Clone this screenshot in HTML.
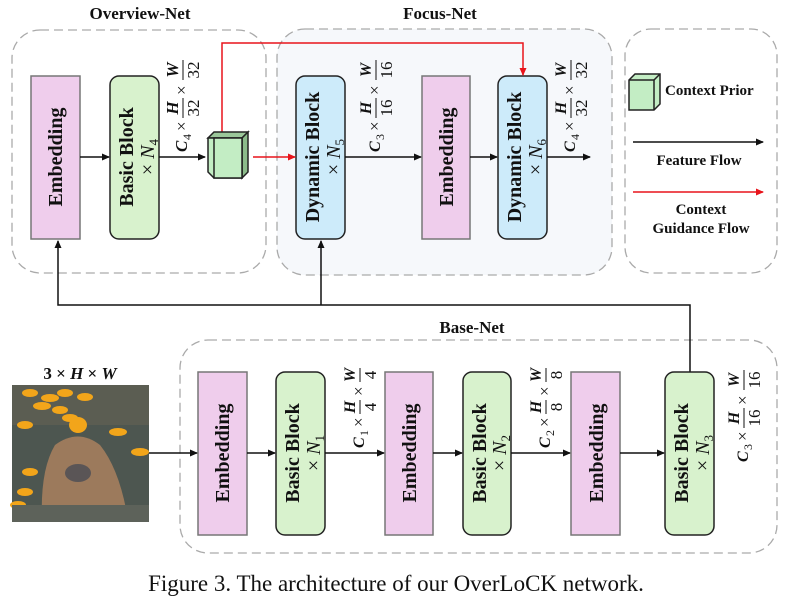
<!DOCTYPE html>
<html><head><meta charset="utf-8"><style>
body{margin:0;background:#fff}
svg{display:block}
text{font-family:"Liberation Serif",serif;font-weight:bold;fill:#111}
.b{fill:none;stroke:#aaa;stroke-width:1.3;stroke-dasharray:9 5}
.e{fill:#efcdec;stroke:#777;stroke-width:1.5}
.g{fill:#d8f2cd;stroke:#222;stroke-width:1.5}
.d{fill:#cdebfa;stroke:#222;stroke-width:1.5}
.l{stroke:#111;stroke-width:1.5;fill:none}
.r{stroke:#e8141b;stroke-width:1.5;fill:none}
.bt{font-size:20px}
.lt{font-size:17px}
.m{font-size:17px;font-weight:normal}
.i{font-style:italic;font-weight:bold}
.s{font-size:12px;font-weight:normal}
.fb{stroke:#111;stroke-width:1}
</style></head><body>
<svg width="793" height="600" viewBox="0 0 793 600">
<defs>
<marker id="a" markerWidth="8" markerHeight="8" refX="7" refY="4" orient="auto" markerUnits="userSpaceOnUse"><path d="M0,0.5 L8,4 L0,7.5 z" fill="#111"/></marker>
<marker id="ar" markerWidth="8" markerHeight="8" refX="7" refY="4" orient="auto" markerUnits="userSpaceOnUse"><path d="M0,0.5 L8,4 L0,7.5 z" fill="#e8141b"/></marker>
</defs>
<rect x="12" y="30" width="254" height="243" rx="28" class="b"/>
<rect x="277" y="29" width="335" height="246" rx="28" class="b" style="fill:#f6f8fb"/>
<rect x="625" y="29" width="152" height="244" rx="26" class="b"/>
<rect x="180" y="340" width="597" height="213" rx="28" class="b"/>
<text x="140" y="19" text-anchor="middle" class="lt">Overview-Net</text>
<text x="440" y="19" text-anchor="middle" class="lt">Focus-Net</text>
<text x="472" y="333" text-anchor="middle" class="lt">Base-Net</text>

<rect x="31" y="76" width="49" height="163" class="e"/>
<rect x="110" y="76" width="49" height="163" rx="9" class="g"/>
<rect x="296" y="76" width="49" height="163" rx="9" class="d"/>
<rect x="422" y="76" width="48" height="163" class="e"/>
<rect x="498" y="76" width="49" height="163" rx="9" class="d"/>
<text transform="translate(62,157) rotate(-90)" text-anchor="middle" class="bt">Embedding</text>
<text transform="translate(133,157) rotate(-90)" text-anchor="middle" class="bt">Basic  Block</text>
<text transform="translate(154,157) rotate(-90)" text-anchor="middle" class="bt" style="font-weight:normal">× <tspan font-style="italic">N</tspan><tspan font-size="13" dy="4">4</tspan></text>
<text transform="translate(319,157) rotate(-90)" text-anchor="middle" class="bt">Dynamic  Block</text>
<text transform="translate(340,157) rotate(-90)" text-anchor="middle" class="bt" style="font-weight:normal">× <tspan font-style="italic">N</tspan><tspan font-size="13" dy="4">5</tspan></text>
<text transform="translate(453,157) rotate(-90)" text-anchor="middle" class="bt">Embedding</text>
<text transform="translate(521,157) rotate(-90)" text-anchor="middle" class="bt">Dynamic  Block</text>
<text transform="translate(542,157) rotate(-90)" text-anchor="middle" class="bt" style="font-weight:normal">× <tspan font-style="italic">N</tspan><tspan font-size="13" dy="4">6</tspan></text>

<line x1="80" y1="157" x2="109" y2="157" class="l" marker-end="url(#a)"/>
<line x1="159" y1="157" x2="205" y2="157" class="l" marker-end="url(#a)"/>
<line x1="345" y1="157" x2="421" y2="157" class="l" marker-end="url(#a)"/>
<line x1="470" y1="157" x2="497" y2="157" class="l" marker-end="url(#a)"/>
<line x1="547" y1="157" x2="590" y2="157" class="l" marker-end="url(#a)"/>
<line x1="253" y1="157" x2="295" y2="157" class="r" marker-end="url(#ar)"/>
<polyline points="222,132 222,43 523,43 523,75" class="r" marker-end="url(#ar)"/>

<g stroke="#222" stroke-width="1.5">
<polygon points="208,138 214,132 248,132 242,138" fill="#9bc79a"/>
<polygon points="242,138 248,132 248,172 242,178" fill="#8bbb8a"/>
<polygon points="208,138 242,138 242,178 214,178 208,172" fill="#c3edc4"/>
<rect x="214" y="138" width="28" height="40" fill="#c3edc4"/>
</g>

<g transform="translate(187,152) rotate(-90)" class="m">
<text x="0" y="0" class="i">C</text><text x="12" y="4" class="s">4</text><text x="21" y="0" class="m">×</text>
<text x="44" y="-9" text-anchor="middle" class="i">H</text><line x1="34" y1="-4" x2="54" y2="-4" class="fb"/><text x="44" y="12" text-anchor="middle" class="m">32</text>
<text x="57" y="0" class="m">×</text>
<text x="82" y="-9" text-anchor="middle" class="i">W</text><line x1="72" y1="-4" x2="92" y2="-4" class="fb"/><text x="82" y="12" text-anchor="middle" class="m">32</text>
</g>
<g transform="translate(380,152) rotate(-90)">
<text x="0" y="0" class="i">C</text><text x="12" y="4" class="s">3</text><text x="21" y="0" class="m">×</text>
<text x="44" y="-9" text-anchor="middle" class="i">H</text><line x1="34" y1="-4" x2="54" y2="-4" class="fb"/><text x="44" y="12" text-anchor="middle" class="m">16</text>
<text x="57" y="0" class="m">×</text>
<text x="82" y="-9" text-anchor="middle" class="i">W</text><line x1="72" y1="-4" x2="92" y2="-4" class="fb"/><text x="82" y="12" text-anchor="middle" class="m">16</text>
</g>
<g transform="translate(575,152) rotate(-90)">
<text x="0" y="0" class="i">C</text><text x="12" y="4" class="s">4</text><text x="21" y="0" class="m">×</text>
<text x="44" y="-9" text-anchor="middle" class="i">H</text><line x1="34" y1="-4" x2="54" y2="-4" class="fb"/><text x="44" y="12" text-anchor="middle" class="m">32</text>
<text x="57" y="0" class="m">×</text>
<text x="82" y="-9" text-anchor="middle" class="i">W</text><line x1="72" y1="-4" x2="92" y2="-4" class="fb"/><text x="82" y="12" text-anchor="middle" class="m">32</text>
</g>

<g stroke="#222" stroke-width="1.5">
<polygon points="629,80 635,74 660,74 660,104 654,110 629,110" fill="#c3edc4"/>
<polyline points="629,80 654,80 654,110" fill="none"/>
<polyline points="654,80 660,74" fill="none"/>
</g>
<text x="665" y="95" style="font-size:15px">Context Prior</text>
<line x1="633" y1="142" x2="763" y2="142" class="l" marker-end="url(#a)"/>
<text x="699" y="165" text-anchor="middle" style="font-size:15px">Feature Flow</text>
<line x1="633" y1="192" x2="763" y2="192" class="r" marker-end="url(#ar)"/>
<text x="701" y="214" text-anchor="middle" style="font-size:15px">Context</text>
<text x="701" y="233" text-anchor="middle" style="font-size:15px">Guidance Flow</text>

<polyline points="690,372 690,305 58,305 58,241" class="l" marker-end="url(#a)"/>
<line x1="321" y1="305" x2="321" y2="241" class="l" marker-end="url(#a)"/>

<rect x="198" y="372" width="49" height="163" class="e"/>
<rect x="276" y="372" width="49" height="163" rx="9" class="g"/>
<rect x="385" y="372" width="48" height="163" class="e"/>
<rect x="463" y="372" width="48" height="163" rx="9" class="g"/>
<rect x="571" y="372" width="49" height="163" class="e"/>
<rect x="665" y="372" width="49" height="163" rx="9" class="g"/>
<text transform="translate(229,453) rotate(-90)" text-anchor="middle" class="bt">Embedding</text>
<text transform="translate(299,453) rotate(-90)" text-anchor="middle" class="bt">Basic  Block</text>
<text transform="translate(320,453) rotate(-90)" text-anchor="middle" class="bt" style="font-weight:normal">× <tspan font-style="italic">N</tspan><tspan font-size="13" dy="4">1</tspan></text>
<text transform="translate(416,453) rotate(-90)" text-anchor="middle" class="bt">Embedding</text>
<text transform="translate(486,453) rotate(-90)" text-anchor="middle" class="bt">Basic  Block</text>
<text transform="translate(506,453) rotate(-90)" text-anchor="middle" class="bt" style="font-weight:normal">× <tspan font-style="italic">N</tspan><tspan font-size="13" dy="4">2</tspan></text>
<text transform="translate(603,453) rotate(-90)" text-anchor="middle" class="bt">Embedding</text>
<text transform="translate(688,453) rotate(-90)" text-anchor="middle" class="bt">Basic  Block</text>
<text transform="translate(709,453) rotate(-90)" text-anchor="middle" class="bt" style="font-weight:normal">× <tspan font-style="italic">N</tspan><tspan font-size="13" dy="4">3</tspan></text>

<line x1="149" y1="453" x2="197" y2="453" class="l" marker-end="url(#a)"/>
<line x1="247" y1="453" x2="275" y2="453" class="l" marker-end="url(#a)"/>
<line x1="325" y1="453" x2="384" y2="453" class="l" marker-end="url(#a)"/>
<line x1="433" y1="453" x2="462" y2="453" class="l" marker-end="url(#a)"/>
<line x1="511" y1="453" x2="570" y2="453" class="l" marker-end="url(#a)"/>
<line x1="620" y1="453" x2="664" y2="453" class="l" marker-end="url(#a)"/>

<g transform="translate(364,448) rotate(-90)">
<text x="0" y="0" class="i">C</text><text x="12" y="4" class="s">1</text><text x="21" y="0" class="m">×</text>
<text x="41" y="-9" text-anchor="middle" class="i">H</text><line x1="34" y1="-4" x2="48" y2="-4" class="fb"/><text x="41" y="12" text-anchor="middle" class="m">4</text>
<text x="52" y="0" class="m">×</text>
<text x="73" y="-9" text-anchor="middle" class="i">W</text><line x1="66" y1="-4" x2="80" y2="-4" class="fb"/><text x="73" y="12" text-anchor="middle" class="m">4</text>
</g>
<g transform="translate(550,448) rotate(-90)">
<text x="0" y="0" class="i">C</text><text x="12" y="4" class="s">2</text><text x="21" y="0" class="m">×</text>
<text x="41" y="-9" text-anchor="middle" class="i">H</text><line x1="34" y1="-4" x2="48" y2="-4" class="fb"/><text x="41" y="12" text-anchor="middle" class="m">8</text>
<text x="52" y="0" class="m">×</text>
<text x="73" y="-9" text-anchor="middle" class="i">W</text><line x1="66" y1="-4" x2="80" y2="-4" class="fb"/><text x="73" y="12" text-anchor="middle" class="m">8</text>
</g>
<g transform="translate(748,462) rotate(-90)">
<text x="0" y="0" class="i">C</text><text x="12" y="4" class="s">3</text><text x="21" y="0" class="m">×</text>
<text x="44" y="-9" text-anchor="middle" class="i">H</text><line x1="34" y1="-4" x2="54" y2="-4" class="fb"/><text x="44" y="12" text-anchor="middle" class="m">16</text>
<text x="57" y="0" class="m">×</text>
<text x="82" y="-9" text-anchor="middle" class="i">W</text><line x1="72" y1="-4" x2="92" y2="-4" class="fb"/><text x="82" y="12" text-anchor="middle" class="m">16</text>
</g>

<text x="80" y="379" text-anchor="middle" style="font-size:17px">3 × <tspan font-style="italic">H</tspan> × <tspan font-style="italic">W</tspan></text>
<rect x="12" y="385" width="137" height="137" fill="#4d5650"/>
<rect x="12" y="385" width="137" height="40" fill="#5b5d52"/>
<g fill="#f2a51a">
<ellipse cx="30" cy="393" rx="8" ry="4"/><ellipse cx="50" cy="398" rx="9" ry="4"/><ellipse cx="65" cy="393" rx="8" ry="4"/><ellipse cx="85" cy="397" rx="8" ry="4"/><ellipse cx="42" cy="406" rx="9" ry="4"/><ellipse cx="60" cy="410" rx="8" ry="4"/><ellipse cx="70" cy="418" rx="8" ry="4"/><ellipse cx="25" cy="425" rx="8" ry="4"/><ellipse cx="118" cy="432" rx="9" ry="4"/><ellipse cx="140" cy="452" rx="9" ry="4"/><ellipse cx="30" cy="472" rx="8" ry="4"/><ellipse cx="25" cy="492" rx="8" ry="4"/><ellipse cx="18" cy="505" rx="8" ry="4"/><ellipse cx="78" cy="425" rx="9" ry="8"/>
</g>
<path d="M42,520 Q40,470 55,445 Q78,428 100,445 Q120,470 128,520 z" fill="#9c7a5c"/>
<ellipse cx="78" cy="473" rx="13" ry="9" fill="#5a5556"/>
<rect x="12" y="505" width="137" height="17" fill="#5d625a"/>

<text x="396" y="591" text-anchor="middle" style="font-size:23px;font-weight:normal">Figure 3. The architecture of our OverLoCK network.</text>
</svg>
</body></html>
